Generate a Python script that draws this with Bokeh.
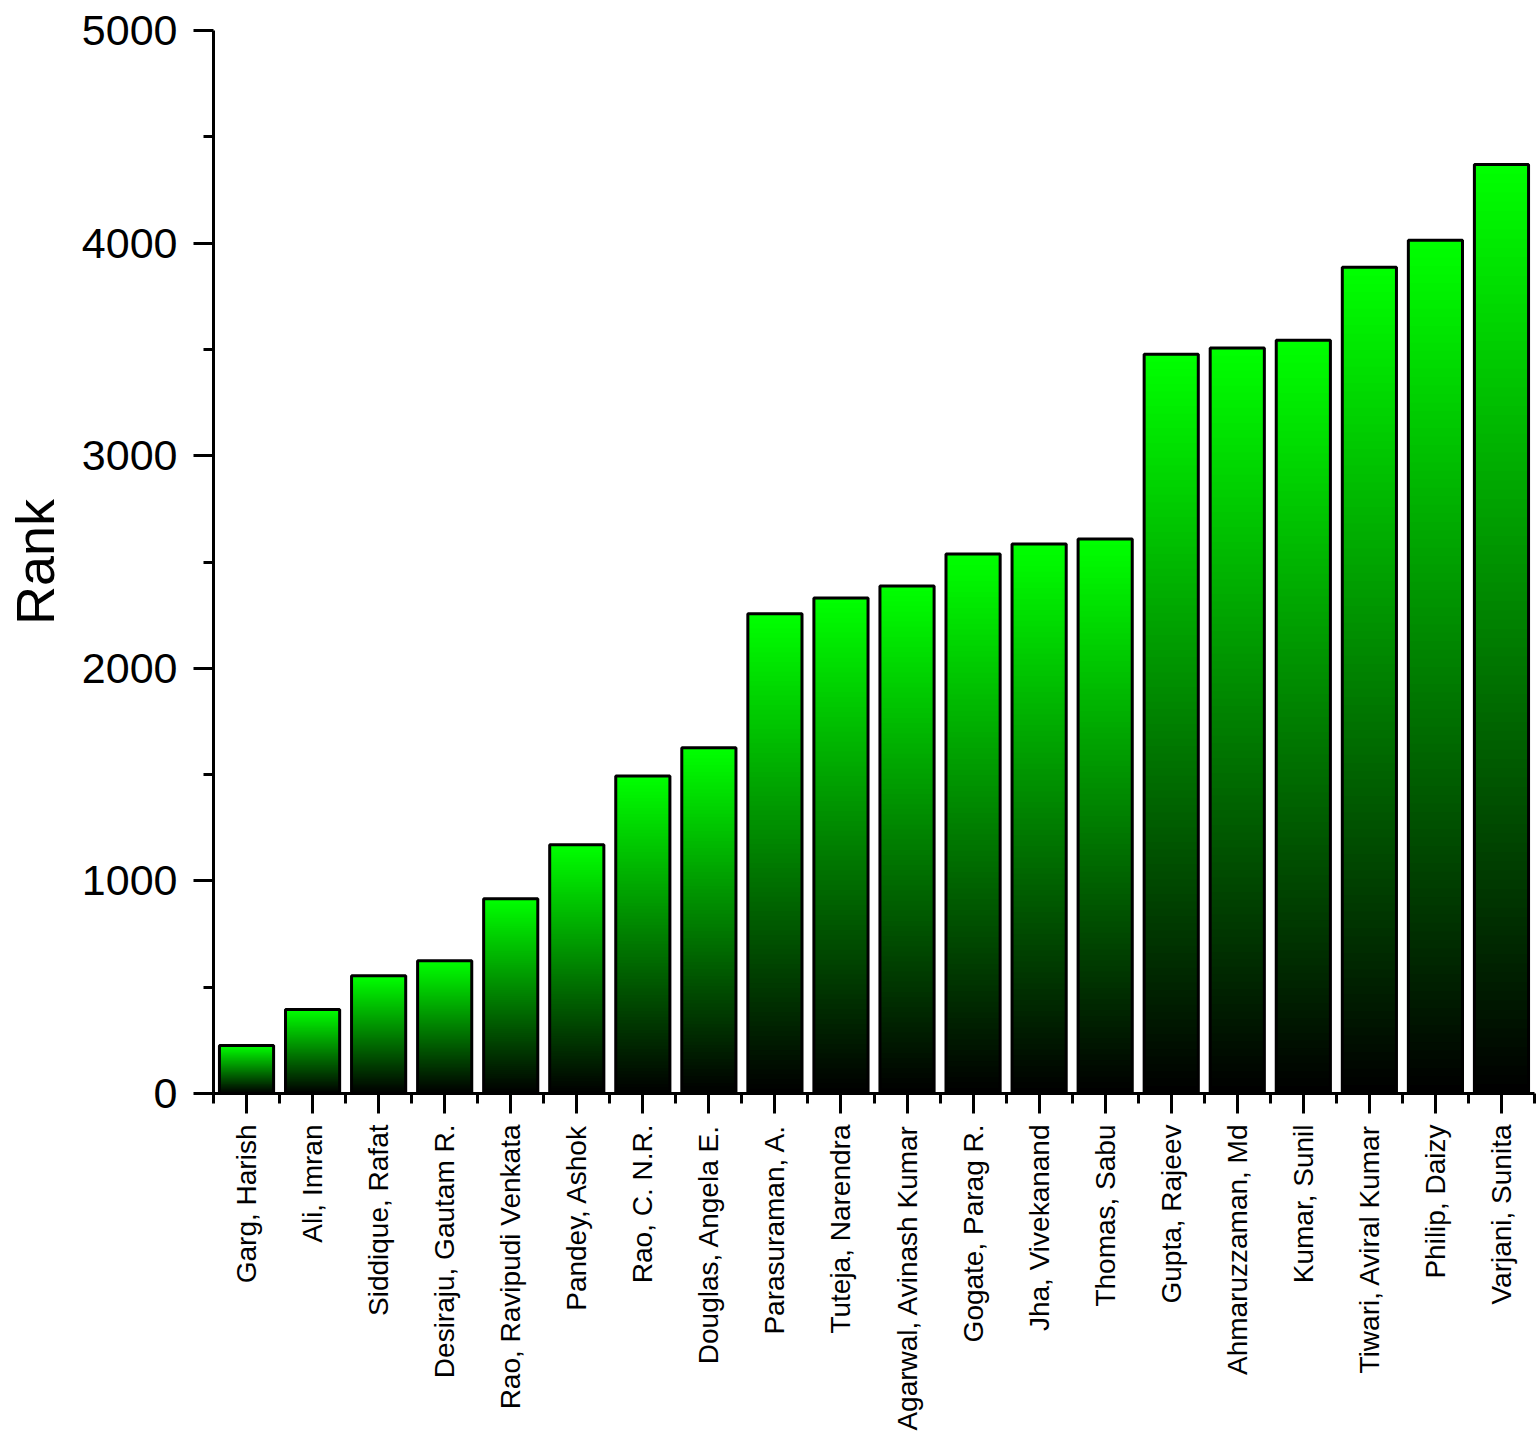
import math
from bokeh.plotting import figure
from bokeh.models import FixedTicker, Range1d
from bokeh.embed import file_html
from bokeh.resources import INLINE

names = ["Garg, Harish", "Ali, Imran", "Siddique, Rafat", "Desiraju, Gautam R.",
         "Rao, Ravipudi Venkata", "Pandey, Ashok", "Rao, C. N.R.", "Douglas, Angela E.",
         "Parasuraman, A.", "Tuteja, Narendra", "Agarwal, Avinash Kumar", "Gogate, Parag R.",
         "Jha, Vivekanand", "Thomas, Sabu", "Gupta, Rajeev", "Ahmaruzzaman, Md",
         "Kumar, Sunil", "Tiwari, Aviral Kumar", "Philip, Daizy", "Varjani, Sunita"]
ranks = [226, 395, 554, 625, 916, 1170, 1494, 1626, 2256, 2331,
         2387, 2538, 2585, 2608, 3477, 3506, 3543, 3886, 4013, 4370]
y_ticks = [0, 1000, 2000, 3000, 4000, 5000]
y_minor = [500, 1500, 2500, 3500, 4500]

xs = [i + 0.5 for i in range(len(names))]

p = figure(width=1536, height=1433, output_backend="svg", toolbar_location=None,
           x_range=Range1d(0, len(names)), y_range=Range1d(0, 5000),
           min_border_left=213, min_border_right=2, min_border_top=30, min_border_bottom=338)
p.outline_line_color = None
p.grid.visible = False

# gradient fill: overlapping slices, each from its start up to the bar top
N = 100
bx, bb, bt, bc = [], [], [], []
for x, v in zip(xs, ranks):
    for k in range(N):
        g = int(round(255 * k / (N - 1)))
        bx.append(x)
        bb.append(v * k / N)
        bt.append(v)
        bc.append("#%02x%02x%02x" % (0, g, 0))
p.vbar(x=bx, bottom=bb, top=bt, width=0.82, fill_color=bc, line_color=None)
p.vbar(x=xs, bottom=0, top=ranks, width=0.82, fill_alpha=0, line_color="black", line_width=3)

xa = p.xaxis[0]
xa.ticker = FixedTicker(ticks=xs, minor_ticks=list(range(len(names) + 1)))
xa.major_label_overrides = {x: n for x, n in zip(xs, names)}
xa.major_label_orientation = math.pi / 2
xa.major_label_text_font = "Liberation Sans"
xa.major_label_text_font_size = "28px"
xa.major_label_text_color = "black"
xa.major_label_standoff = 11

ya = p.yaxis[0]
ya.ticker = FixedTicker(ticks=y_ticks, minor_ticks=y_minor)
ya.major_label_text_font = "Liberation Sans"
ya.major_label_text_font_size = "43px"
ya.major_label_text_color = "black"
ya.major_label_standoff = 16
ya.axis_label = "Rank"
ya.axis_label_text_font = "Liberation Sans"
ya.axis_label_text_font_size = "54px"
ya.axis_label_text_font_style = "normal"
ya.axis_label_text_color = "black"
ya.axis_label_standoff = 14

for ax in (xa, ya):
    ax.axis_line_width = 3
    ax.axis_line_color = "black"
    ax.major_tick_line_width = 3
    ax.minor_tick_line_width = 3
    ax.major_tick_line_color = "black"
    ax.minor_tick_line_color = "black"
    ax.major_tick_out = 20
    ax.major_tick_in = 0
    ax.minor_tick_out = 10
    ax.minor_tick_in = 0

open("out.html", "w").write(file_html(p, INLINE))
